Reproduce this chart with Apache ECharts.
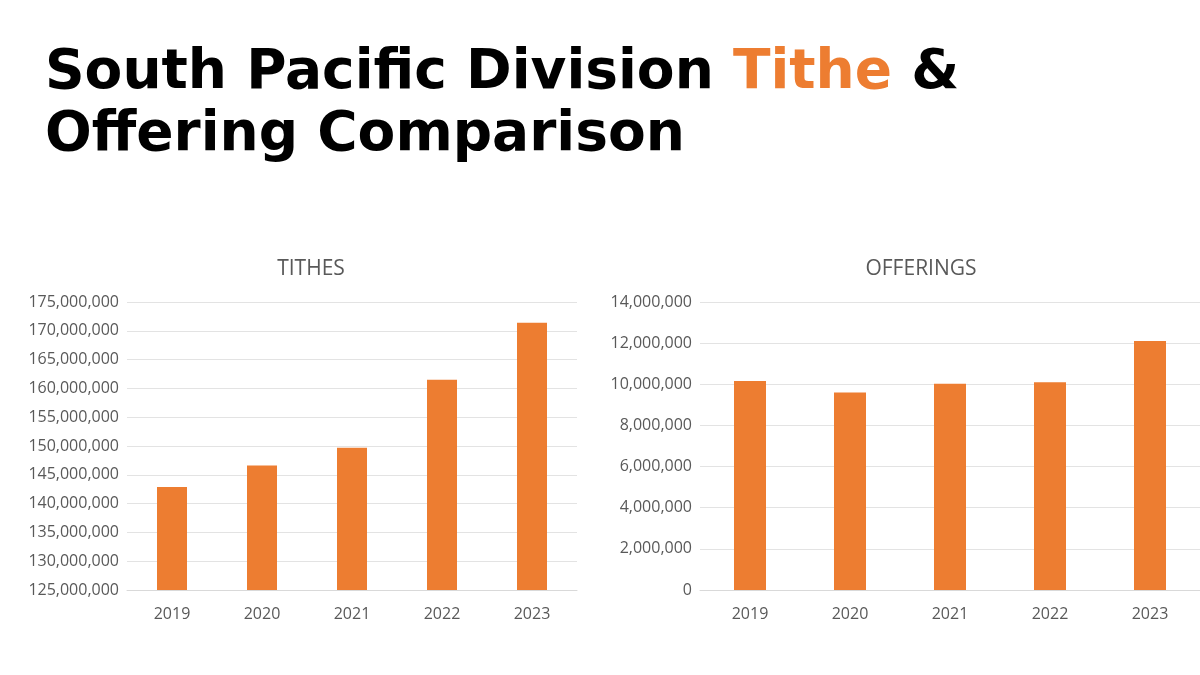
<!DOCTYPE html>
<html>
<head>
<meta charset="utf-8" />
<script src="https://cdn.jsdelivr.net/npm/echarts@6/dist/echarts.min.js"></script>
</head>
<body style="margin:0;background:#fff">
<div id="main" style="width:1200px;height:675px;"></div>
<script>
var years = ['2019', '2020', '2021', '2022', '2023'];
var tithes = [142900000, 146600000, 149700000, 161500000, 171400000];
var offerings = [10160000, 9600000, 10020000, 10100000, 12100000];
var orange = '#ED7D31';

var chart = echarts.init(document.getElementById('main'));
function axisLabel() {
    return { color: '#595959', fontFamily: 'Open Sans', fontSize: 16,
        formatter: function (v) { return v.toLocaleString('en-US'); } };
}
var option = {
    backgroundColor: '#fff',
    title: [{
        text: 'South Pacific Division {o|Tithe} &\nOffering Comparison',
        left: 40, top: 38,
        textStyle: {
            fontFamily: 'DejaVu Sans', fontWeight: 'bold', fontSize: 55, color: '#000', lineHeight: 62,
            rich: { o: { fontFamily: 'DejaVu Sans', fontWeight: 'bold', fontSize: 55, color: orange } }
        }
    }, {
        text: 'TITHES', left: 306, top: 254, textAlign: 'center',
        textStyle: { fontFamily: 'Open Sans', fontWeight: 'normal', fontSize: 21, color: '#595959' }
    }, {
        text: 'OFFERINGS', left: 916, top: 254, textAlign: 'center',
        textStyle: { fontFamily: 'Open Sans', fontWeight: 'normal', fontSize: 21, color: '#595959' }
    }],
    grid: [
        { left: 127, width: 450, top: 302, height: 288 },
        { left: 700, width: 515, top: 302, height: 288 }
    ],
    xAxis: [0, 1].map(function (i) {
        return { type: 'category', gridIndex: i, data: years,
            axisLine: { lineStyle: { color: '#d9d9d9' } }, axisTick: { show: false },
            axisLabel: { color: '#595959', fontFamily: 'Open Sans', fontSize: 16, margin: 16 } };
    }),
    yAxis: [
        { type: 'value', gridIndex: 0, min: 125000000, max: 175000000, interval: 5000000,
          axisLabel: axisLabel(), axisLine: { show: false }, axisTick: { show: false },
          splitLine: { lineStyle: { color: '#e3e3e3' } } },
        { type: 'value', gridIndex: 1, min: 0, max: 14000000, interval: 2000000,
          axisLabel: axisLabel(), axisLine: { show: false }, axisTick: { show: false },
          splitLine: { lineStyle: { color: '#e3e3e3' } } }
    ],
    series: [
        { type: 'bar', xAxisIndex: 0, yAxisIndex: 0, data: tithes, barWidth: 30, itemStyle: { color: orange } },
        { type: 'bar', xAxisIndex: 1, yAxisIndex: 1, data: offerings, barWidth: 32, itemStyle: { color: orange } }
    ]
};
chart.setOption(option);
</script>
</body>
</html>
